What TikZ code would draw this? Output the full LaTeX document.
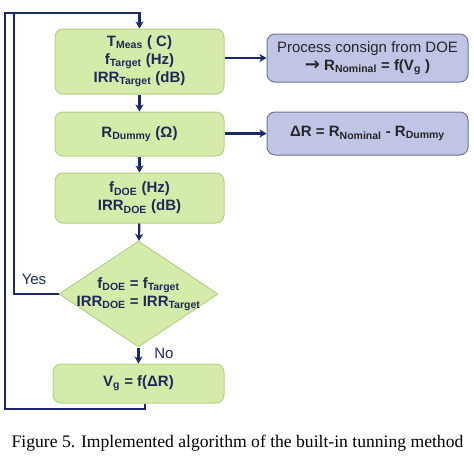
\documentclass[tikz,border=0pt]{standalone}
\usepackage{fontspec}
\setmainfont{Liberation Serif}
\setsansfont{Liberation Sans}
\newfontfamily\arrowfont{DejaVu Sans}
\usetikzlibrary{shapes.geometric, arrows.meta, positioning}
\definecolor{boxgreen}{RGB}{213,235,170}
\definecolor{edgegreen}{RGB}{178,210,132}
\definecolor{boxblue}{RGB}{192,197,230}
\definecolor{edgeblue}{RGB}{110,116,148}
\definecolor{navy}{RGB}{26,40,104}
\definecolor{inkblue}{RGB}{30,42,86}

\begin{document}
\begin{tikzpicture}[x=1pt, y=-1pt,
	gbox/.style={inner sep=0pt, draw=edgegreen, fill=boxgreen, line width=1pt, rounded corners=8pt,
		align=center, text=inkblue, font=\sffamily\bfseries\fontsize{15}{18}\selectfont},
	bbox/.style={inner sep=0pt, draw=edgeblue, fill=boxblue, line width=1pt, rounded corners=8pt,
		minimum width=201pt, align=center, text=black!85, font=\sffamily\fontsize{15}{18}\selectfont},
	decision/.style={diamond, inner sep=0pt, draw=edgegreen, fill=boxgreen, line width=1pt,
		minimum width=159pt, minimum height=106pt},
	flow/.style={-{Stealth[length=7pt, width=8pt, inset=2pt]}, line width=2.2pt, draw=navy},
	loop/.style={line width=2.2pt, draw=navy}]
	\useasboundingbox (0,0) rectangle (474,474);

	\draw (139.5,61.5) node[gbox, minimum width=169pt, minimum height=65pt] (b1) {T\textsubscript{Meas} ( C)\\ f\textsubscript{Target} (Hz)\\ IRR\textsubscript{Target} (dB)}
	(139.5,134) node[gbox, minimum width=169pt, minimum height=44pt] (b2) {R\textsubscript{Dummy} (Ω)}
	(139.5,198) node[gbox, minimum width=169pt, minimum height=50pt] (b3) {f\textsubscript{DOE} (Hz)\\ IRR\textsubscript{DOE} (dB)}
	(138.5,294) node[decision, label={[align=center, text=inkblue, font=\sffamily\bfseries\fontsize{15}{18}\selectfont]center:f\textsubscript{DOE} = f\textsubscript{Target}\\ IRR\textsubscript{DOE} = IRR\textsubscript{Target}}] (dia) {}
	(138.5,383.5) node[gbox, minimum width=171pt, minimum height=39pt] (b4) {V\textsubscript{g} = f(ΔR)}
	(367.5,58) node[bbox, minimum height=48pt] (r1) {Process consign from DOE\\ \textbf{{\arrowfont\fontsize{18}{18}\selectfont →} R\textsubscript{Nominal} = f(V\textsubscript{g} )}}
	(367.5,133.5) node[bbox, minimum height=43pt] (r2) {\textbf{ΔR = R\textsubscript{Nominal} - R\textsubscript{Dummy}}};

	\node[text=inkblue, font=\sffamily\fontsize{15}{18}\selectfont] (yes) at (34,279) {Yes};
	\node[text=inkblue, font=\sffamily\fontsize{15}{18}\selectfont] (no) at (164,353) {No};
	\node[font=\fontsize{17.6}{21}\selectfont] (cap) at (237.5,443) {Figure 5. Implemented algorithm of the built-in tunning method};

	\coordinate (loopB) at (5,409);
	\coordinate (loopT) at (5,13);
	\coordinate (yesT) at (14,13);

	\draw[flow] (b1) -- (b2);
	\draw[flow] (b2) -- (b3);
	\draw[flow] (b3) -- (dia);
	\draw[flow] (dia) -- (b4);
	\draw[flow] (b1.east |- r1.west) -- (r1.west);
	\draw[flow] (b2.east |- r2.west) -- (r2.west);
	\draw[loop] (dia.west) -| (yesT);
	\draw[flow] ([xshift=6.5pt]b4.south) |- (loopB) -- (loopT) -| (b1.north);
\end{tikzpicture}
\end{document}
